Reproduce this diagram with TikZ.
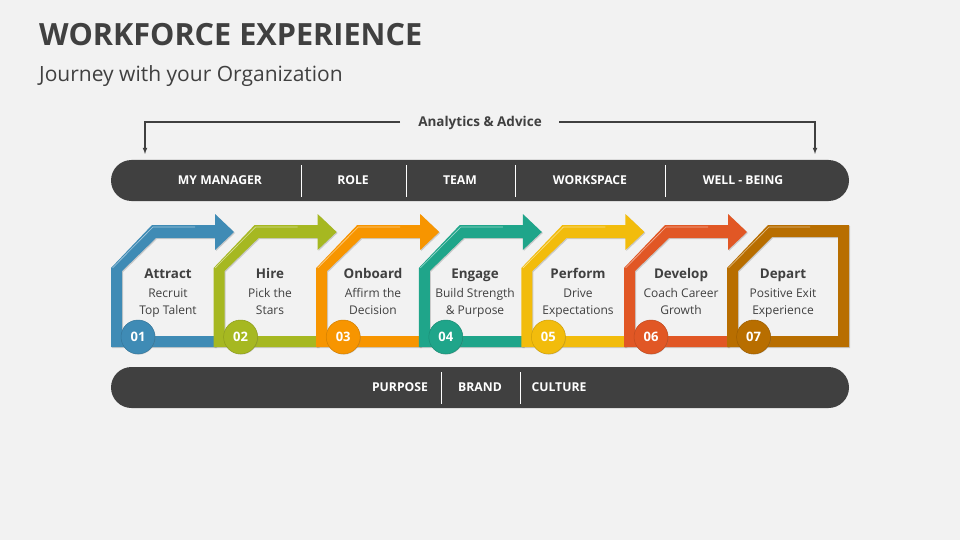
\documentclass[tikz,border=0pt]{standalone}
\usepackage{fontspec}
\setmainfont{Open Sans}
\usetikzlibrary{shadows}
\definecolor{pagegrey}{HTML}{F2F2F2}
\definecolor{bargrey}{HTML}{404040}
\definecolor{colA}{HTML}{3F8BB5}
\definecolor{colB}{HTML}{A6B821}
\definecolor{colC}{HTML}{F79500}
\definecolor{colD}{HTML}{1FA58A}
\definecolor{colE}{HTML}{F2BC0C}
\definecolor{colF}{HTML}{E15725}
\definecolor{colG}{HTML}{B86E00}
\tikzset{
    cardshape/.style={fill=#1, drop shadow={opacity=.35, shadow xshift=1pt, shadow yshift=-1pt}},
    gleam/.style={white, opacity=.55, line width=.6pt},
    numdisc/.style={circle, fill=#1, draw=#1!85!black, line width=.5pt, minimum size=34pt, inner sep=0pt,
        text=white, font=\fontsize{13}{15}\selectfont\bfseries, drop shadow={opacity=.3, shadow xshift=.6pt, shadow yshift=-.6pt}},
    bartext/.style={text=white, font=\fontsize{12.2}{14}\selectfont\bfseries, inner sep=0pt, anchor=base},
    barfill/.style={fill=bargrey, rounded corners=20.5pt},
    cardtitle/.style={text=bargrey, font=\fontsize{13.4}{16}\selectfont\bfseries, inner sep=0pt, anchor=base},
    cardtext/.style={text=bargrey, font=\fontsize{12}{17}\selectfont, inner sep=0pt, anchor=base},
    sepline/.style={white, line width=.8pt},
    feedline/.style={bargrey, line width=1.1pt},
}
\begin{document}
\begin{tikzpicture}[x=1pt, y=-1pt]
    \fill[pagegrey] (0,0) rectangle (960,540);
    \useasboundingbox (0,0) rectangle (960,540);

    % heading
    \node[anchor=base west, inner sep=0pt, text=bargrey, font=\fontsize{30.6}{36}\selectfont\bfseries] (title) at (39,46) {WORKFORCE EXPERIENCE};
    \node[anchor=base west, inner sep=0pt, text=bargrey, font=\fontsize{21}{24}\selectfont] (subtitle) at (39,82) {Journey with your Organization};

    % analytics line
    \node[text=bargrey, inner sep=0pt, anchor=base, font=\fontsize{13.5}{16}\selectfont\bfseries] (advice) at (480,126.5) {Analytics \& Advice};
    \coordinate (adviceL) at (400,122);
    \coordinate (adviceR) at (559,122);
    \coordinate (endL) at (145,154);
    \coordinate (endR) at (815,154);
    \draw[feedline, -latex] (adviceL) -| (endL);
    \draw[feedline, -latex] (adviceR) -| (endR);

    % top bar
    \path[barfill] (111,160) rectangle (849,201);
    \node[bartext] (manager) at (220,184.5) {MY MANAGER};
    \node[bartext] (role) at (353,184.5) {ROLE};
    \node[bartext] (team) at (460,184.5) {TEAM};
    \node[bartext] (workspace) at (590,184.5) {WORKSPACE};
    \node[bartext] (wellbeing) at (743,184.5) {WELL - BEING};
    \foreach \x in {301.5,406.5,515.5,665.5}
        \draw[sepline] (\x,165) -- (\x,197);

    % bottom bar
    \path[barfill] (111,367) rectangle (849,408);
    \node[bartext] (purpose) at (400,391.5) {PURPOSE};
    \node[bartext] (brand) at (480,391.5) {BRAND};
    \node[bartext] (culture) at (559,391.5) {CULTURE};
    \foreach \x in {441,520}
        \draw[sepline] (\x,372) -- (\x,404);

    % arrows 1 to 6
    \foreach \i/\col in {1/colA,2/colB,3/colC,4/colD,5/colE,6/colF} {
        \pgfmathsetmacro{\off}{(\i-1)*102.6}
        \path[cardshape=\col, shift={(\off,0)}]
            (111,347) -- (111,268) -- (152,225) -- (215,225) -- (215,214) -- (234,232)
            -- (215,250) -- (215,238) -- (156,238) -- (122,271) -- (122,336) -- (216,336)
            -- (216,347) -- cycle;
        \draw[gleam, shift={(\off,0)}] (112.5,268) -- (153,227) -- (195,227);
    }

    % last one is closed
    \path[cardshape=colG]
        (727,347) -- (727,268) -- (768,225) -- (849,225) -- (849,347) -- cycle
        (738,336) -- (838,336) -- (838,237) -- (772,237) -- (738,271) -- cycle;
    \draw[gleam] (728.5,268) -- (769,227) -- (810,227);

    % discs and texts
    \foreach \i/\col/\head/\lineA/\lineB/\xc in {
        1/colA/Attract/Recruit/Top Talent/168,
        2/colB/Hire/Pick the/Stars/270,
        3/colC/Onboard/Affirm the/Decision/373,
        4/colD/Engage/Build Strength/\& Purpose/475,
        5/colE/Perform/Drive/Expectations/578,
        6/colF/Develop/Coach Career/Growth/681,
        7/colG/Depart/Positive Exit/Experience/783} {
        \pgfmathsetmacro{\xd}{138+(\i-1)*102.6}
        \node[numdisc=\col] (num\i) at (\xd,337) {0\i};
        \node[cardtitle] (head\i) at (\xc,278) {\head};
        \node[cardtext] (upper\i) at (\xc,297) {\lineA};
        \node[cardtext] (lower\i) at (\xc,314) {\lineB};
    }
\end{tikzpicture}
\end{document}
